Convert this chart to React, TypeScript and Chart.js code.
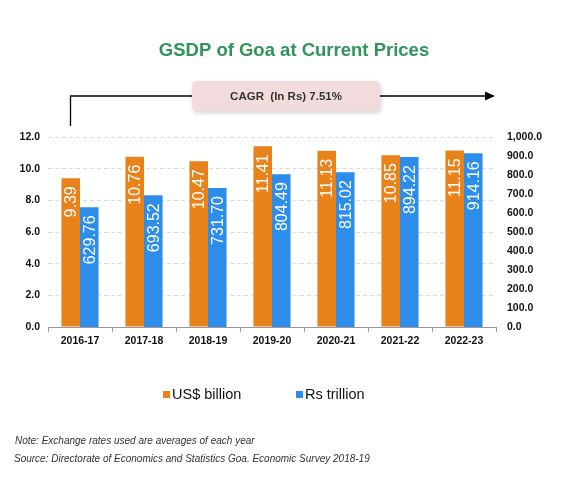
import React, { useEffect, useRef } from "react";
import { Chart, registerables } from "chart.js";

Chart.register(...registerables);

const categories = ["2016-17", "2017-18", "2018-19", "2019-20", "2020-21", "2021-22", "2022-23"];
const usdBillion = [9.39, 10.76, 10.47, 11.41, 11.13, 10.85, 11.15];
const rsTrillion = [629.76, 693.52, 731.7, 804.49, 815.02, 894.22, 914.16];
const seriesNames = ["US$ billion", "Rs trillion"];
const leftTicks = { min: 0, max: 12, step: 2 };
const rightTicks = { min: 0, max: 1000, step: 100 };
const titleText = "GSDP of Goa at Current Prices";
const cagrText = "CAGR  (In Rs) 7.51%";
const noteText = "Note: Exchange rates used are averages of each year";
const sourceText = "Source: Directorate of Economics and Statistics Goa. Economic Survey 2018-19";

const ORANGE = "#E8831C";
const BLUE = "#2D8DEB";
const FONT = "Arial, 'Liberation Sans', sans-serif";

const decorPlugin = {
  id: "decor",
  afterDatasetsDraw(chart: any) {
    const ctx = chart.ctx as CanvasRenderingContext2D;
    chart.data.datasets.forEach((ds: any, di: number) => {
      const meta = chart.getDatasetMeta(di);
      meta.data.forEach((el: any, i: number) => {
        const v = ds.data[i] as number;
        ctx.save();
        ctx.translate(el.x, el.y + 8);
        ctx.rotate(-Math.PI / 2);
        ctx.textAlign = "right";
        ctx.textBaseline = "middle";
        ctx.fillStyle = "#ffffff";
        ctx.font = `16px ${FONT}`;
        ctx.fillText(v.toFixed(2), 0, 1);
        ctx.restore();
      });
    });
  },
  afterDraw(chart: any) {
    const ctx = chart.ctx as CanvasRenderingContext2D;
    ctx.save();
    ctx.fillStyle = "#2F9559";
    ctx.font = `bold 18.5px ${FONT}`;
    ctx.textAlign = "center";
    ctx.textBaseline = "middle";
    ctx.fillText(titleText, 294, 51);

    ctx.strokeStyle = "#000";
    ctx.lineWidth = 1.3;
    ctx.beginPath();
    ctx.moveTo(70.5, 126);
    ctx.lineTo(70.5, 96);
    ctx.lineTo(487, 96);
    ctx.stroke();
    ctx.fillStyle = "#000";
    ctx.beginPath();
    ctx.moveTo(495, 96);
    ctx.lineTo(485, 91.5);
    ctx.lineTo(485, 100.5);
    ctx.closePath();
    ctx.fill();

    const bx = 192, by = 81, bw = 188, bh = 30, r = 5;
    ctx.save();
    ctx.shadowColor = "rgba(0,0,0,0.18)";
    ctx.shadowBlur = 4;
    ctx.shadowOffsetX = 1;
    ctx.shadowOffsetY = 2;
    ctx.fillStyle = "#F2DCDB";
    ctx.beginPath();
    ctx.moveTo(bx + r, by);
    ctx.lineTo(bx + bw - r, by);
    ctx.quadraticCurveTo(bx + bw, by, bx + bw, by + r);
    ctx.lineTo(bx + bw, by + bh - r);
    ctx.quadraticCurveTo(bx + bw, by + bh, bx + bw - r, by + bh);
    ctx.lineTo(bx + r, by + bh);
    ctx.quadraticCurveTo(bx, by + bh, bx, by + bh - r);
    ctx.lineTo(bx, by + r);
    ctx.quadraticCurveTo(bx, by, bx + r, by);
    ctx.closePath();
    ctx.fill();
    ctx.restore();
    ctx.fillStyle = "#333";
    ctx.font = `bold 11.5px ${FONT}`;
    ctx.textAlign = "center";
    ctx.textBaseline = "middle";
    ctx.fillText(cagrText, 286, 97);

    ctx.textAlign = "left";
    ctx.textBaseline = "alphabetic";
    ctx.font = `14.5px ${FONT}`;
    ctx.fillStyle = ORANGE;
    ctx.fillRect(163, 391, 7, 7);
    ctx.fillStyle = "#111";
    ctx.fillText(seriesNames[0], 172, 398.5);
    ctx.fillStyle = BLUE;
    ctx.fillRect(296, 391, 7, 7);
    ctx.fillStyle = "#111";
    ctx.fillText(seriesNames[1], 305, 398.5);

    ctx.font = `italic 10px ${FONT}`;
    ctx.fillStyle = "#333";
    ctx.textBaseline = "middle";
    ctx.fillText(noteText, 15, 441);
    ctx.fillText(sourceText, 14, 459);
    ctx.restore();
  },
};

export default function App() {
  const ref = useRef<HTMLCanvasElement | null>(null);
  useEffect(() => {
    if (!ref.current) return;
    const tickFont = { family: FONT, size: 10.5, weight: "bold" as const };
    const chart = new Chart(ref.current, {
      type: "bar",
      data: {
        labels: categories,
        datasets: [
          {
            label: seriesNames[0],
            data: usdBillion,
            backgroundColor: ORANGE,
            yAxisID: "y",
            categoryPercentage: 0.58,
            barPercentage: 1,
          },
          {
            label: seriesNames[1],
            data: rsTrillion,
            backgroundColor: BLUE,
            yAxisID: "y1",
            categoryPercentage: 0.58,
            barPercentage: 1,
          },
        ],
      },
      options: {
        animation: false,
        responsive: true,
        maintainAspectRatio: false,
        layout: { padding: { top: 137, bottom: 121, left: 0, right: 0 } },
        plugins: {
          legend: { display: false },
          title: { display: false },
          tooltip: { enabled: false },
        },
        scales: {
          x: {
            offset: true,
            grid: {
              display: true,
              drawOnChartArea: false,
              drawTicks: true,
              tickLength: 5,
              color: "#999",
              offset: true,
            },
            border: { display: true, color: "#999" },
            ticks: { font: tickFont, color: "#111", padding: 3, maxRotation: 0 },
            afterFit: (s: any) => {
              s.height = 30;
            },
          },
          y: {
            position: "left",
            min: leftTicks.min,
            max: leftTicks.max,
            ticks: {
              stepSize: leftTicks.step,
              font: tickFont,
              color: "#111",
              padding: 8,
              callback: (v: any) => Number(v).toFixed(1),
            },
            grid: { color: "#dadada", drawTicks: false, tickLength: 0 },
            border: { display: false, dash: [4, 3] },
            afterFit: (s: any) => {
              s.width = 48;
            },
          },
          y1: {
            position: "right",
            min: rightTicks.min,
            max: rightTicks.max,
            ticks: {
              stepSize: rightTicks.step,
              font: tickFont,
              color: "#111",
              padding: 11,
              callback: (v: any) =>
                Number(v).toLocaleString("en-US", { minimumFractionDigits: 1, maximumFractionDigits: 1 }),
            },
            grid: { display: false, drawTicks: false },
            border: { display: false },
            afterFit: (s: any) => {
              s.width = 67;
            },
          },
        },
      },
      plugins: [decorPlugin],
    });
    return () => chart.destroy();
  }, []);
  return (
    <div style={{ position: "absolute", left: 0, top: 0, width: 563, height: 478, background: "#fff" }}>
      <canvas ref={ref} />
    </div>
  );
}
